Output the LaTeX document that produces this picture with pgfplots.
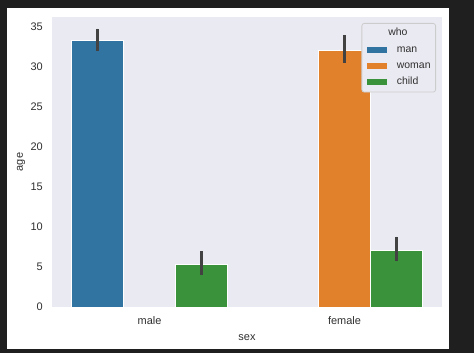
\documentclass[border=0pt]{standalone}
\usepackage{pgfplots}
\pgfplotsset{compat=1.18}
\usepackage{fontspec}
\setmainfont{Liberation Sans}
\definecolor{framec}{HTML}{1F1F1F}
\definecolor{bgc}{HTML}{EAEAF2}
\definecolor{txtc}{HTML}{303030}
\definecolor{manc}{HTML}{3274A1}
\definecolor{womanc}{HTML}{E1812C}
\definecolor{childc}{HTML}{3A923A}
\definecolor{errc}{HTML}{424242}
\definecolor{legedge}{HTML}{CCCCCC}
\begin{document}
\begin{tikzpicture}
\path[use as bounding box] (0,0) rectangle (474bp,353bp);
\fill[framec] (0,0) rectangle (474bp,353bp);
\fill[white] (7bp,4.3bp) rectangle (449bp,344.7bp);
\begin{axis}[
  at={(52bp,46bp)}, anchor=south west,
  scale only axis, width=390bp, height=290bp,
  xmin=-0.5, xmax=1.5, ymin=0, ymax=36.25,
  xtick={0,1}, xticklabels={male,female},
  ytick={0,5,10,15,20,25,30,35},
  /pgf/number format/assume math mode=true,
  axis background/.style={fill=bgc},
  axis line style={draw=none},
  tick style={draw=none},
  major tick length=0pt,
  tick label style={font=\fontsize{11}{13}\selectfont, text=txtc, inner sep=0pt},
  yticklabel style={anchor=east, xshift=-9bp},
  xticklabel style={anchor=north, yshift=-9bp},
  xlabel={sex}, ylabel={age},
  every axis x label/.style={at={([yshift=-33bp]axis description cs:0.5,0)}, anchor=base,
    font=\fontsize{11}{13}\selectfont, text=txtc, inner sep=0pt},
  every axis y label/.style={at={([xshift=-29bp]axis description cs:0,0.5)}, rotate=90, anchor=base,
    font=\fontsize{11}{13}\selectfont, text=txtc, inner sep=0pt},
  ybar, bar width=0.2667,
  every axis plot/.append style={draw=white, line width=0.8bp},
  error bars/error bar style={line width=2.7bp, color=errc},
  legend cell align=left,
  legend image code/.code={\fill[#1, draw=none, sharp corners] (0bp,-3bp) rectangle (20bp,3bp);},
  legend style={at={(1,1)}, anchor=north east, xshift=-6bp, yshift=-6bp,
    fill=bgc, draw=legedge, line width=0.8bp, rounded corners=2.5bp,
    font=\fontsize{10.5}{12}\selectfont, text=txtc,
    inner xsep=5bp, inner ysep=5bp, row sep=6.5bp, column sep=10bp,
    nodes={inner sep=0pt, text height=7.6bp, text depth=2.2bp}},
]
\addlegendimage{empty legend}
\addlegendentry{\hspace{-8.5bp}who}
\addplot[fill=manc, bar shift=-0.2667,
  error bars/.cd, y dir=both, y explicit, error mark=none]
  coordinates {(0,33.3) += (0,1.5) -= (0,1.25)};
\addlegendentry{man}
\addplot[fill=womanc, bar shift=0,
  error bars/.cd, y dir=both, y explicit, error mark=none]
  coordinates {(1,32.1) += (0,1.9) -= (0,1.6)};
\addlegendentry{woman}
\addplot[fill=childc, bar shift=0.2667,
  error bars/.cd, y dir=both, y explicit, error mark=none]
  coordinates {(0,5.33) += (0,1.67) -= (0,1.33) (1,7.1) += (0,1.7) -= (0,1.4)};
\addlegendentry{child}
\end{axis}
\end{tikzpicture}
\end{document}
